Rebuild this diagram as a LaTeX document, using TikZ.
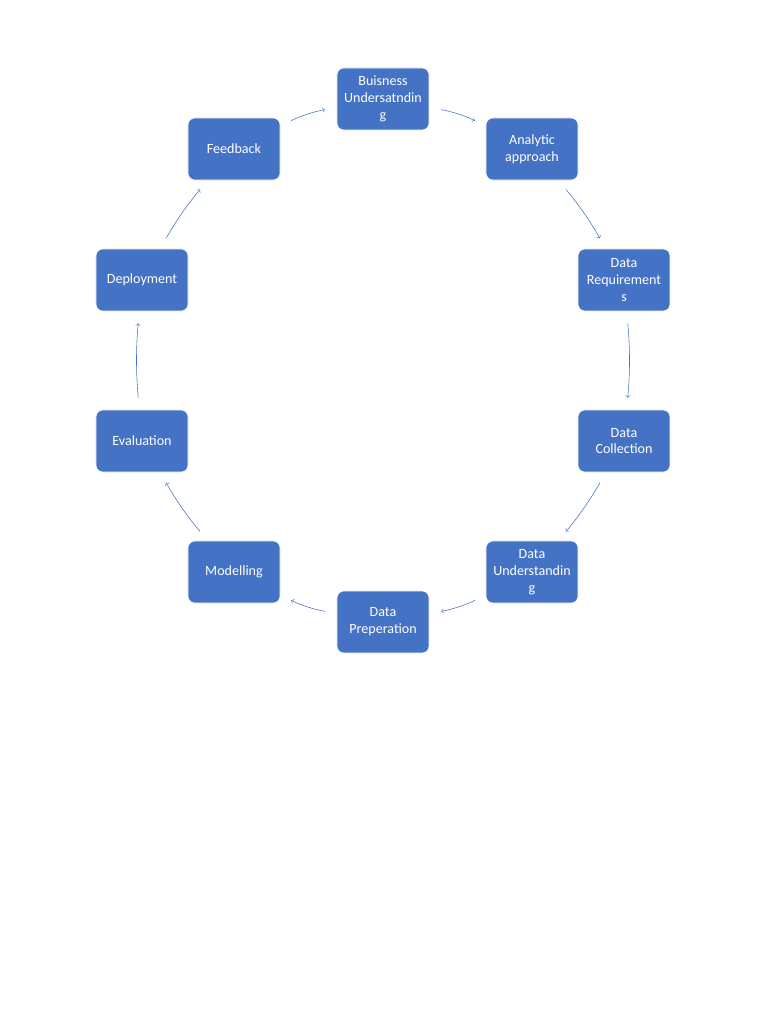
\documentclass[tikz,border=0pt]{standalone}
\usepackage{fontspec}
\setmainfont{Carlito}
\definecolor{boxblue}{HTML}{4472C4}
\begin{document}
\begin{tikzpicture}[x=0.025cm, y=-0.025cm,
  every node/.style={font=\fontsize{10}{12}\selectfont},
  stage/.style={draw=white, fill=boxblue, rectangle, rounded corners=5pt, minimum width=2.3cm, minimum height=1.55cm, text=white, align=center, inner sep=1pt},
  flow/.style={->, draw=boxblue, thin, shorten <=0.3cm, shorten >=0.3cm}]
\useasboundingbox (0,0) rectangle (768,1024);
% Steps - cycle
\node[stage] (bu) at (383,99) {Buisness\\Undersatndin\\g};
\node[stage] (an) at (532,149) {Analytic\\approach};
\node[stage] (dr) at (624,280) {Data\\Requirement\\s};
\node[stage] (dc) at (624,441) {Data\\Collection};
\node[stage] (du) at (532,572) {Data\\Understandin\\g};
\node[stage] (dp) at (383,622) {Data\\Preperation};
\node[stage] (mo) at (234,572) {Modelling};
\node[stage] (ev) at (142,441) {Evaluation};
\node[stage] (de) at (142,280) {Deployment};
\node[stage] (fb) at (234,149) {Feedback};

% Arrows
\draw[flow] (bu) to[bend left=8] (an);
\draw[flow] (an) to[bend left=5] (dr);
\draw[flow] (dr) to[bend left=5] (dc);
\draw[flow] (dc) to[bend left=5] (du);
\draw[flow] (du) to[bend left=8] (dp);
\draw[flow] (dp) to[bend left=8] (mo);
\draw[flow] (mo) to[bend left=5] (ev);
\draw[flow] (ev) to[bend left=5] (de);
\draw[flow] (de) to[bend left=5] (fb);
\draw[flow] (fb) to[bend left=8] (bu);
\end{tikzpicture}
\end{document}
